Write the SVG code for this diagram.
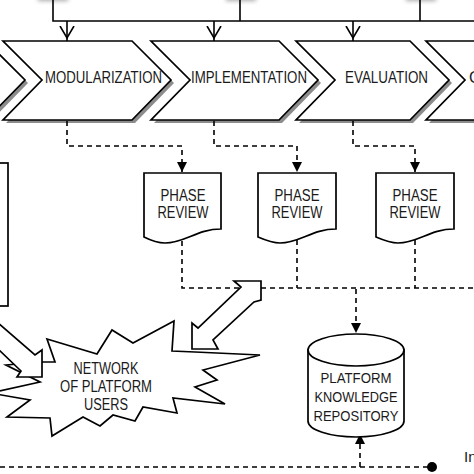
<svg xmlns="http://www.w3.org/2000/svg" width="474" height="474" viewBox="0 0 474 474">
<style>
.ln{fill:none;stroke:#000;stroke-width:1.6}
.dash{fill:none;stroke:#000;stroke-width:1.6;stroke-dasharray:5 4}
.shape{fill:#fff;stroke:#000;stroke-width:1.7;stroke-linejoin:miter}
.shadow{fill:#8c8c8c}
.t{font-family:"Liberation Sans",Arial,sans-serif;font-size:16px;fill:#1a1a1a;text-anchor:middle}
.s{font-size:15px}
</style>
<defs>
<marker id="tri" viewBox="0 0 10 10" refX="10" refY="5" markerWidth="10" markerHeight="10" markerUnits="userSpaceOnUse" orient="auto">
<path d="M0,0 L10,5 L0,10 Z" fill="#000"/>
</marker>
<marker id="vee" viewBox="0 0 16 16" refX="15" refY="8" markerWidth="16" markerHeight="16" markerUnits="userSpaceOnUse" orient="auto">
<path d="M0,1 L12,8 L0,15" fill="none" stroke="#000" stroke-width="1.6"/>
</marker>
<filter id="blur" x="-50%" y="-50%" width="200%" height="200%"><feGaussianBlur stdDeviation="2"/></filter>
</defs>
<rect width="474" height="474" fill="#fff"/>
<g id="top-shadows" fill="#aaa" filter="url(#blur)">
<rect x="38" y="-6" width="30" height="7"/>
<rect x="226" y="-6" width="30" height="7"/>
<rect x="406" y="-6" width="30" height="7"/>
</g>
<g id="chevrons">
<g id="chevron-prev">
<polygon class="shadow" points="-54,44 -11,44 28,83 -11,123 -54,123"/>
<polygon class="shape" points="-54,41 -14,41 25,80 -14,120 -54,120"/>
</g>
<g id="chevron-modularization">
<polygon class="shadow" points="6,44 135,44 174,83 135,123 6,123 45,83"/>
<polygon class="shape" points="3,41 132,41 171,80 132,120 3,120 42,80"/>
<text class="t" x="103.5" y="83" textLength="117" lengthAdjust="spacingAndGlyphs">MODULARIZATION</text>
</g>
<g id="chevron-implementation">
<polygon class="shadow" points="154,44 282,44 321,83 282,123 154,123 193,83"/>
<polygon class="shape" points="151,41 279,41 318,80 279,120 151,120 190,80"/>
<text class="t" x="249" y="83" textLength="116" lengthAdjust="spacingAndGlyphs">IMPLEMENTATION</text>
</g>
<g id="chevron-evaluation">
<polygon class="shadow" points="299,44 413,44 452,83 413,123 299,123 338,83"/>
<polygon class="shape" points="296,41 410,41 449,80 410,120 296,120 335,80"/>
<text class="t" x="386.5" y="83" textLength="83" lengthAdjust="spacingAndGlyphs">EVALUATION</text>
</g>
<g id="chevron-next">
<polygon class="shadow" points="429,44 560,44 560,123 429,123 468,83"/>
<polygon class="shape" points="426,41 560,41 560,120 426,120 465,80"/>
<text class="t" x="469" y="83" style="text-anchor:start">C</text>
</g>
</g>
<g id="connectors">
<path class="ln" d="M53,0 V21 H476 M240,0 V21 M420,0 V21"/>
<path class="ln" d="M67,21 V41" marker-end="url(#vee)"/>
<path class="ln" d="M214,21 V41" marker-end="url(#vee)"/>
<path class="ln" d="M353,21 V41" marker-end="url(#vee)"/>
<path class="dash" d="M67,121 V146 H182 V172" marker-end="url(#tri)"/>
<path class="dash" d="M214,121 V146 H297 V172" marker-end="url(#tri)"/>
<path class="dash" d="M353,121 V146 H415 V172" marker-end="url(#tri)"/>
<path class="dash" d="M182,241 V288 H476 M297,240 V288 M415,240 V288"/>
<path class="dash" d="M356,289 V333" marker-end="url(#tri)"/>
<path class="dash" d="M0,467 H432 M360,467 V434" marker-end="url(#tri)"/>
<circle cx="432" cy="467" r="5" fill="#000"/>
</g>
<g id="left-box">
<rect class="shape" x="-4" y="163" width="12" height="143"/>
</g>
<g id="phase-review-1">
<path class="shape" d="M144,173 H221 V229 C197,229 185,243 165,243 C157,243 150,240 144,237 Z"/>
<text class="t" x="183" y="201" textLength="45" lengthAdjust="spacingAndGlyphs">PHASE</text>
<text class="t" x="183" y="218" textLength="51" lengthAdjust="spacingAndGlyphs">REVIEW</text>
</g>
<g id="phase-review-2">
<path class="shape" d="M258,173 H336 V229 C312,229 300,243 280,243 C272,243 265,240 258,237 Z"/>
<text class="t" x="297" y="201" textLength="45" lengthAdjust="spacingAndGlyphs">PHASE</text>
<text class="t" x="297" y="218" textLength="51" lengthAdjust="spacingAndGlyphs">REVIEW</text>
</g>
<g id="phase-review-3">
<path class="shape" d="M376,173 H454 V229 C430,229 418,243 398,243 C390,243 383,240 376,237 Z"/>
<text class="t" x="415" y="201" textLength="45" lengthAdjust="spacingAndGlyphs">PHASE</text>
<text class="t" x="415" y="218" textLength="51" lengthAdjust="spacingAndGlyphs">REVIEW</text>
</g>
<g id="network-of-platform-users">
<polygon class="shape" points="47,339 97,354 112,330 133,343 174,321 172,351 195,352 260,355 203,370 217,380 195,387 225,404 173,398 177,413 143,407 135,421 113,415 100,426 83,417 52,436 50,418 7,417 30,400 -10,393 40,382 6,365 42,362 55,362"/>
<text class="t" x="106" y="374" textLength="65" lengthAdjust="spacingAndGlyphs">NETWORK</text>
<text class="t" x="106" y="392" textLength="92" lengthAdjust="spacingAndGlyphs">OF PLATFORM</text>
<text class="t" x="106" y="410" textLength="44" lengthAdjust="spacingAndGlyphs">USERS</text>
</g>
<g id="arrow-left">
<polygon class="shape" points="-3,322 35,355 42,350 42,377 17,377 21,371 -3,348"/>
</g>
<g id="arrow-double">
<polygon class="shape" points="261,281 261,300 254,302 213,340 218,349 192,349 192,323 198,328 241,287 234,281"/>
</g>
<g id="platform-knowledge-repository">
<path class="shape" d="M308,350 V421 A48,16 0 0 0 404,421 V350 Z"/>
<ellipse class="shape" cx="356" cy="350" rx="48" ry="16"/>
<text class="t s" x="356" y="383" textLength="71" lengthAdjust="spacingAndGlyphs">PLATFORM</text>
<text class="t s" x="356" y="402" textLength="83" lengthAdjust="spacingAndGlyphs">KNOWLEDGE</text>
<text class="t s" x="356" y="421" textLength="85" lengthAdjust="spacingAndGlyphs">REPOSITORY</text>
</g>
<text class="t s" x="464" y="462" style="text-anchor:start">In</text>
</svg>
